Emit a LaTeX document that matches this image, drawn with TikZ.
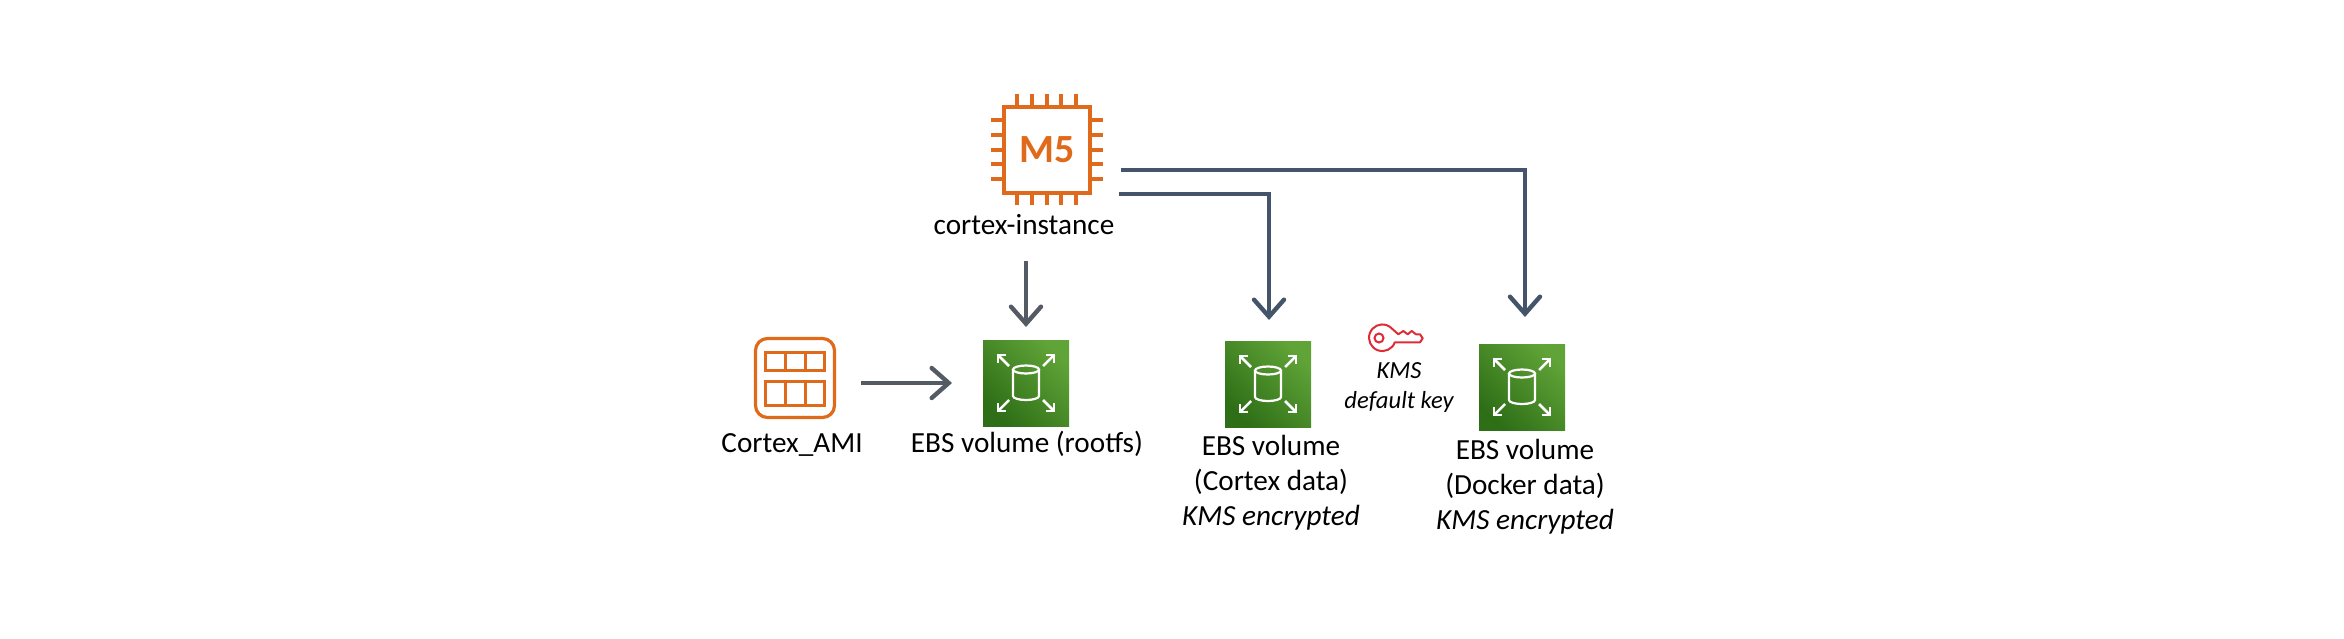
\documentclass[tikz,border=0pt]{standalone}
\usepackage{fontspec}
\setmainfont{Carlito}
\usetikzlibrary{arrows.meta}

\definecolor{awsorange}{HTML}{E06A1B}
\definecolor{ebsdark}{HTML}{2E6E17}
\definecolor{ebslight}{HTML}{60A337}
\definecolor{flowgrey}{HTML}{545B64}
\definecolor{flowslate}{HTML}{44546A}
\definecolor{keyred}{HTML}{DD2C35}

\tikzset{
    flow/.style={line width=2.2pt, -{Straight Barb[length=8.5pt,width=15pt,line cap=round]}},
    lbl/.style={font=\fontsize{14.6}{17.5}\selectfont, inner sep=0pt, align=center},
    keylbl/.style={font=\fontsize{12.3}{15}\selectfont\itshape, inner sep=0pt, align=center},
    ebstile/.style={minimum size=43pt, inner sep=0pt, outer sep=0pt, bottom color=ebsdark, top color=ebslight, shading angle=-45},
    ebsglyph/.pic={
        \foreach \sx in {-1,1}
            \foreach \sy in {-1,1} {
                \draw[white, line width=1.25pt] (\sx*17,\sy*17) -- (\sx*28,\sy*28);
                \draw[white, line width=1.25pt] (\sx*20,\sy*28) -- (\sx*28,\sy*28) -- (\sx*28,\sy*20);
            }
        \draw[white, line width=1.1pt] (0,-13.5) ellipse (13 and 4);
        \draw[white, line width=1.1pt] (-13,-13.5) -- (-13,13) arc[start angle=180, end angle=0, x radius=13, y radius=4] -- (13,-13.5);
    },
}

\begin{document}
\begin{tikzpicture}[x=0.5pt, y=-0.5pt]
    \useasboundingbox (0,0) rectangle (2344,638);

    % instance chip
    \node[draw=awsorange, line width=2pt, minimum size=43pt, inner sep=0pt, outer sep=0pt,
        text=awsorange, font=\fontsize{20}{20}\selectfont\bfseries] (cpu) at (1047,150) {M5};
    \foreach \p in {-30,-15,0,14,29} {
        \draw[awsorange, line width=2pt] (1047+\p,105) -- (1047+\p,94);
        \draw[awsorange, line width=2pt] (1047+\p,195) -- (1047+\p,205);
        \draw[awsorange, line width=2pt] (1002,150+\p) -- (991,150+\p);
        \draw[awsorange, line width=2pt] (1092,150+\p) -- (1103,150+\p);
    }
    \node[lbl, anchor=base] (cpulabel) at (1024,234) {cortex-instance};

    % machine image
    \node[draw=awsorange, line width=1.6pt, rounded corners=6pt, minimum size=39.5pt,
        inner sep=0pt, outer sep=0pt] (ami) at (795,378) {};
    \draw[awsorange, line width=1.5pt] (765.5,352.5) rectangle (824.5,370.5)
        (765.5,381.5) rectangle (824.5,405.5);
    \foreach \x in {785,805}
        \draw[awsorange, line width=1.5pt] (\x,352.5) -- (\x,370.5) (\x,381.5) -- (\x,405.5);
    \node[lbl, anchor=base] (amilabel) at (792,452) {Cortex\_AMI};

    % volumes
    \foreach \n/\x/\y in {ebsroot/1026/383, ebscortex/1268/384, ebsdocker/1522/387} {
        \node[ebstile] (\n) at (\x,\y) {};
        \pic at (\x,\y) {ebsglyph};
    }
    \node[lbl, anchor=base] (rootlabel) at (1027,452) {EBS volume (rootfs)};
    \node[lbl, anchor=north] (cortexlabel) at (1271,435) {EBS volume\\(Cortex data)\\\textit{KMS encrypted}};
    \node[lbl, anchor=north] (dockerlabel) at (1525,439) {EBS volume\\(Docker data)\\\textit{KMS encrypted}};

    % key
    \draw[keyred, line width=1pt, line join=round] (1394.8,342.3)
        arc[start angle=20, end angle=318, radius=13.3]
        -- (1398.3,334.3) -- (1403.3,331) -- (1407.7,334.3) -- (1411.7,331) -- (1416,334.3)
        -- (1420,334.3) -- (1422.7,338.3) -- (1420,342.3) -- cycle;
    \draw[keyred, line width=1pt] (1379,338) circle (4.5);
    \node[keylbl, anchor=north] (keylabel) at (1399,362) {KMS\\default key};

    \coordinate (tapdocker) at (1121,170);
    \coordinate (tapcortex) at (1119,194);

    \draw[flow, flowgrey, shorten <=13pt, shorten >=6.5pt] (cpulabel.south -| ebsroot.north) -- (ebsroot.north);
    \draw[flow, flowgrey, shorten <=13.25pt, shorten >=15.5pt] (ami.east |- ebsroot.west) -- (ebsroot.west);
    \draw[flow, flowslate, shorten >=10.5pt] (tapcortex) -| ([xshift=.5pt]ebscortex.north);
    \draw[flow, flowslate, shorten >=13.5pt] (tapdocker) -| ([xshift=1.5pt]ebsdocker.north);
\end{tikzpicture}
\end{document}
